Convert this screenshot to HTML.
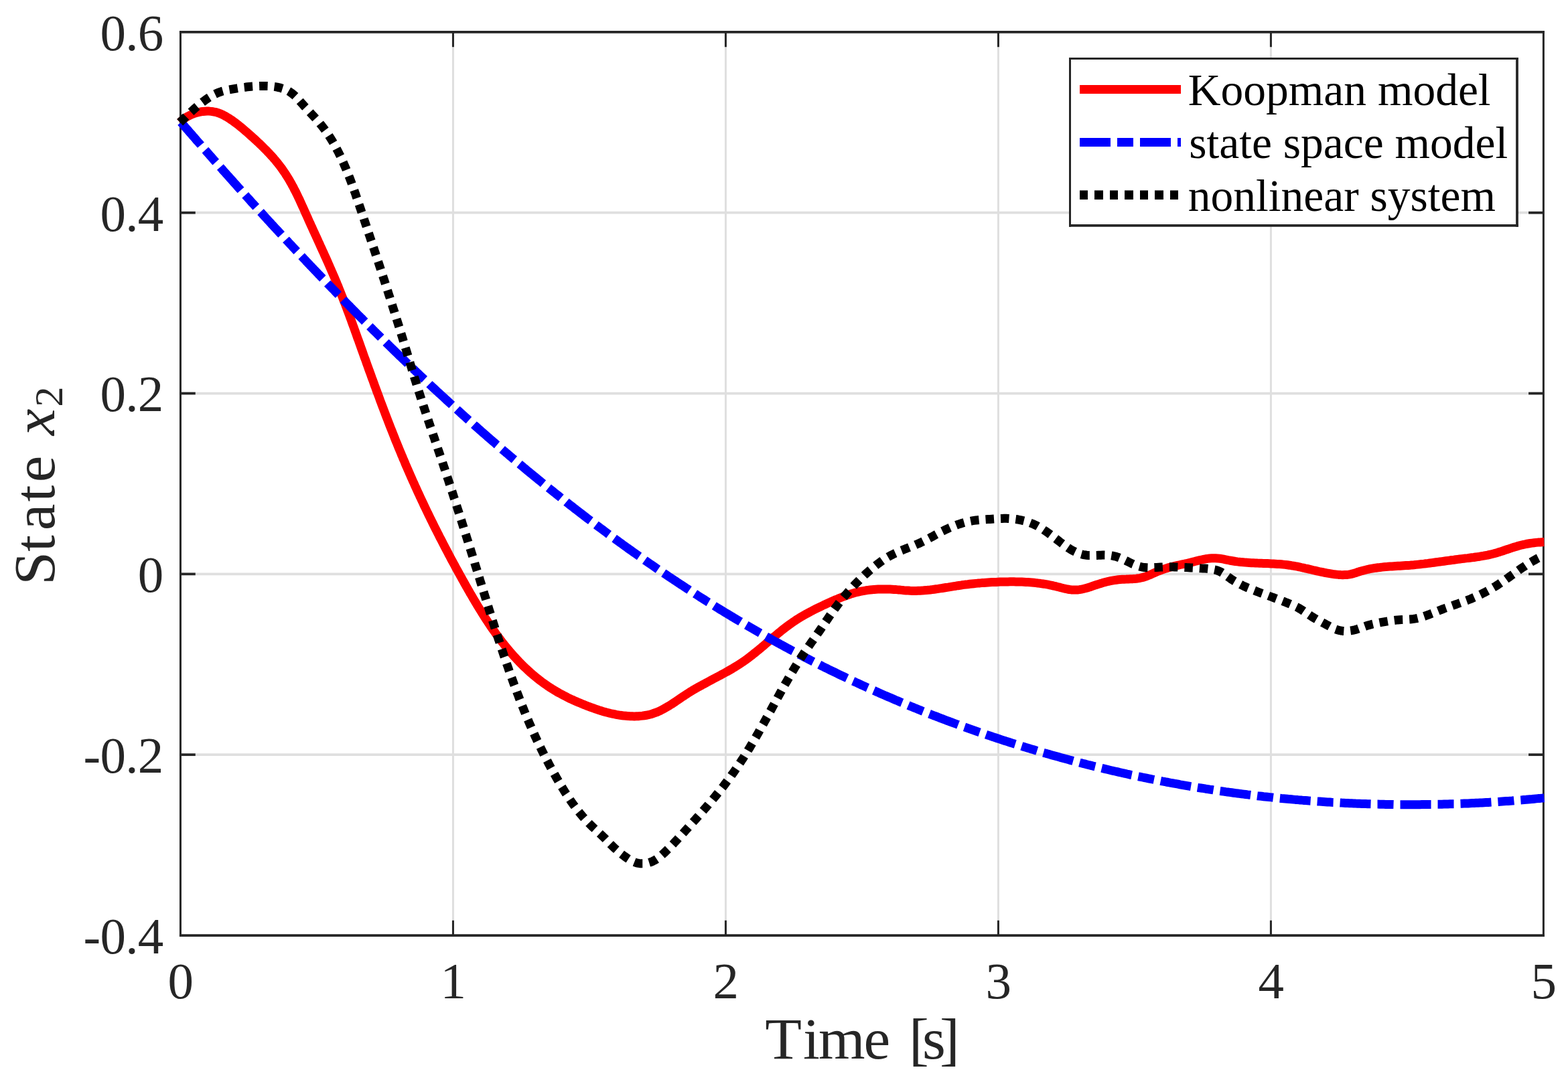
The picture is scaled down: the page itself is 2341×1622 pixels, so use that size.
<!DOCTYPE html>
<html lang="en"><head><meta charset="utf-8"><title>State x2 vs Time [s]</title>
<style>
html,body{margin:0;padding:0;background:#fff;}
body{width:2341px;height:1622px;overflow:hidden;font-family:"Liberation Serif",serif;}
svg{display:block;}
</style></head><body>
<svg width="2341" height="1622" viewBox="0 0 2341 1622">
<rect x="0" y="0" width="2341" height="1622" fill="#fff"/>
<g stroke="#dfdfdf" fill="none">
<line x1="676.44" y1="47.9" x2="676.44" y2="1397.0" stroke-width="3.0"/>
<line x1="1083.43" y1="47.9" x2="1083.43" y2="1397.0" stroke-width="3.0"/>
<line x1="1490.42" y1="47.9" x2="1490.42" y2="1397.0" stroke-width="3.0"/>
<line x1="1897.41" y1="47.9" x2="1897.41" y2="1397.0" stroke-width="3.0"/>
<line x1="269.45" y1="317.72" x2="2304.4" y2="317.72" stroke-width="3.75"/>
<line x1="269.45" y1="587.54" x2="2304.4" y2="587.54" stroke-width="3.75"/>
<line x1="269.45" y1="857.36" x2="2304.4" y2="857.36" stroke-width="3.75"/>
<line x1="269.45" y1="1127.18" x2="2304.4" y2="1127.18" stroke-width="3.75"/>
</g>
<g stroke="#262626" fill="none" stroke-linecap="butt">
<line x1="676.44" y1="1397.0" x2="676.44" y2="1374.70" stroke-width="3.0"/>
<line x1="676.44" y1="47.9" x2="676.44" y2="70.20" stroke-width="3.0"/>
<line x1="1083.43" y1="1397.0" x2="1083.43" y2="1374.70" stroke-width="3.0"/>
<line x1="1083.43" y1="47.9" x2="1083.43" y2="70.20" stroke-width="3.0"/>
<line x1="1490.42" y1="1397.0" x2="1490.42" y2="1374.70" stroke-width="3.0"/>
<line x1="1490.42" y1="47.9" x2="1490.42" y2="70.20" stroke-width="3.0"/>
<line x1="1897.41" y1="1397.0" x2="1897.41" y2="1374.70" stroke-width="3.0"/>
<line x1="1897.41" y1="47.9" x2="1897.41" y2="70.20" stroke-width="3.0"/>
<line x1="269.45" y1="317.72" x2="291.75" y2="317.72" stroke-width="3.75"/>
<line x1="2304.4" y1="317.72" x2="2282.10" y2="317.72" stroke-width="3.75"/>
<line x1="269.45" y1="587.54" x2="291.75" y2="587.54" stroke-width="3.75"/>
<line x1="2304.4" y1="587.54" x2="2282.10" y2="587.54" stroke-width="3.75"/>
<line x1="269.45" y1="857.36" x2="291.75" y2="857.36" stroke-width="3.75"/>
<line x1="2304.4" y1="857.36" x2="2282.10" y2="857.36" stroke-width="3.75"/>
<line x1="269.45" y1="1127.18" x2="291.75" y2="1127.18" stroke-width="3.75"/>
<line x1="2304.4" y1="1127.18" x2="2282.10" y2="1127.18" stroke-width="3.75"/>
<line x1="267.95" y1="47.9" x2="2305.9" y2="47.9" stroke-width="3.75"/>
<line x1="267.95" y1="1397.0" x2="2305.9" y2="1397.0" stroke-width="3.75"/>
<line x1="269.45" y1="46.025" x2="269.45" y2="1398.875" stroke-width="3.0"/>
<line x1="2304.4" y1="46.025" x2="2304.4" y2="1398.875" stroke-width="3.0"/>
</g>
<path d="M268.7 182.7L270.9 180.6L273.2 178.6L275.6 176.8L278.0 175.2L280.6 173.7L283.3 172.3L286.0 171.0L288.8 169.9L291.6 168.9L294.5 168.1L297.4 167.4L300.3 166.8L303.3 166.4L306.3 166.2L309.3 166.1L312.3 166.1L315.3 166.4L318.2 166.8L321.2 167.3L324.1 168.1L326.9 169.0L329.7 170.1L332.5 171.4L335.1 172.7L337.8 174.2L340.3 175.7L342.8 177.3L345.3 179.0L347.8 180.7L350.2 182.5L352.6 184.3L355.0 186.1L357.3 188.0L359.7 189.9L362.0 191.8L364.3 193.7L366.5 195.7L368.8 197.6L371.1 199.6L373.3 201.6L375.5 203.6L377.8 205.6L380.0 207.6L382.2 209.6L384.4 211.7L386.6 213.7L388.7 215.8L390.9 217.9L393.0 220.0L395.1 222.1L397.3 224.2L399.3 226.4L401.4 228.6L403.4 230.7L405.5 233.0L407.5 235.2L409.4 237.5L411.4 239.7L413.3 242.1L415.2 244.4L417.0 246.7L418.8 249.1L420.6 251.5L422.3 254.0L424.0 256.4L425.7 258.9L427.3 261.5L428.9 264.0L430.5 266.5L432.0 269.1L433.5 271.7L435.0 274.3L436.4 277.0L437.9 279.6L439.2 282.3L440.6 284.9L442.0 287.6L443.3 290.3L444.6 293.0L445.9 295.7L447.2 298.4L448.4 301.1L449.7 303.9L450.9 306.6L452.1 309.3L453.4 312.0L454.6 314.8L455.8 317.5L457.0 320.3L458.3 323.0L459.5 325.7L460.7 328.5L461.9 331.2L463.2 333.9L464.4 336.7L465.7 339.4L466.9 342.1L468.1 344.8L469.4 347.6L470.6 350.3L471.9 353.0L473.1 355.7L474.4 358.5L475.6 361.2L476.9 363.9L478.1 366.7L479.3 369.4L480.6 372.1L481.8 374.8L483.1 377.6L484.3 380.3L485.5 383.0L486.8 385.8L488.0 388.5L489.2 391.2L490.4 394.0L491.6 396.7L492.8 399.5L494.0 402.2L495.2 405.0L496.4 407.7L497.6 410.5L498.8 413.2L500.0 416.0L501.1 418.7L502.3 421.5L503.4 424.3L504.6 427.0L505.7 429.8L506.8 432.6L507.9 435.4L509.0 438.2L510.1 440.9L511.2 443.7L512.3 446.5L513.4 449.3L514.5 452.1L515.6 454.9L516.6 457.7L517.7 460.5L518.7 463.3L519.8 466.1L520.8 468.9L521.9 471.8L522.9 474.6L524.0 477.4L525.0 480.2L526.0 483.0L527.0 485.8L528.1 488.6L529.1 491.5L530.1 494.3L531.1 497.1L532.1 499.9L533.1 502.7L534.1 505.6L535.2 508.4L536.2 511.2L537.2 514.0L538.2 516.9L539.2 519.7L540.2 522.5L541.2 525.3L542.2 528.1L543.2 531.0L544.2 533.8L545.3 536.6L546.3 539.4L547.3 542.3L548.3 545.1L549.3 547.9L550.3 550.7L551.3 553.5L552.4 556.3L553.4 559.2L554.4 562.0L555.4 564.8L556.5 567.6L557.5 570.4L558.5 573.2L559.5 576.1L560.6 578.9L561.6 581.7L562.6 584.5L563.7 587.3L564.7 590.1L565.8 592.9L566.8 595.7L567.8 598.6L568.9 601.4L569.9 604.2L571.0 607.0L572.1 609.8L573.1 612.6L574.2 615.4L575.2 618.2L576.3 621.0L577.4 623.8L578.5 626.6L579.5 629.4L580.6 632.2L581.7 635.0L582.8 637.8L583.9 640.6L585.0 643.3L586.1 646.1L587.2 648.9L588.3 651.7L589.4 654.5L590.5 657.3L591.6 660.0L592.8 662.8L593.9 665.6L595.0 668.4L596.2 671.2L597.3 673.9L598.5 676.7L599.6 679.5L600.8 682.2L601.9 685.0L603.1 687.7L604.3 690.5L605.4 693.3L606.6 696.0L607.8 698.8L609.0 701.5L610.2 704.3L611.4 707.0L612.6 709.8L613.8 712.5L615.0 715.2L616.2 718.0L617.5 720.7L618.7 723.4L619.9 726.2L621.2 728.9L622.4 731.6L623.7 734.4L624.9 737.1L626.2 739.8L627.4 742.5L628.7 745.2L630.0 748.0L631.3 750.7L632.5 753.4L633.8 756.1L635.1 758.8L636.4 761.5L637.7 764.2L639.0 766.9L640.3 769.6L641.6 772.3L642.9 775.0L644.3 777.7L645.6 780.4L646.9 783.0L648.2 785.7L649.6 788.4L650.9 791.1L652.3 793.8L653.6 796.4L655.0 799.1L656.3 801.8L657.7 804.4L659.1 807.1L660.5 809.8L661.8 812.4L663.2 815.1L664.6 817.8L666.0 820.4L667.4 823.1L668.8 825.7L670.2 828.4L671.6 831.0L673.0 833.7L674.4 836.3L675.8 838.9L677.3 841.6L678.7 844.2L680.1 846.8L681.5 849.5L683.0 852.1L684.4 854.7L685.9 857.4L687.3 860.0L688.8 862.6L690.2 865.2L691.7 867.8L693.2 870.5L694.6 873.1L696.1 875.7L697.6 878.3L699.1 880.9L700.6 883.5L702.0 886.1L703.6 888.7L705.1 891.3L706.6 893.9L708.1 896.4L709.6 899.0L711.2 901.6L712.7 904.2L714.3 906.7L715.8 909.3L717.4 911.8L719.0 914.4L720.6 916.9L722.2 919.4L723.8 922.0L725.4 924.5L727.1 927.0L728.7 929.5L730.4 932.0L732.0 934.5L733.7 937.0L735.4 939.4L737.2 941.9L738.9 944.3L740.6 946.8L742.4 949.2L744.2 951.6L746.0 954.0L747.8 956.4L749.6 958.8L751.4 961.1L753.3 963.5L755.2 965.8L757.1 968.1L759.0 970.4L760.9 972.7L762.9 975.0L764.9 977.3L766.8 979.5L768.9 981.7L770.9 983.9L772.9 986.1L775.0 988.3L777.1 990.4L779.2 992.6L781.3 994.7L783.5 996.8L785.7 998.8L787.9 1000.9L790.1 1002.9L792.3 1004.9L794.6 1006.8L796.9 1008.8L799.2 1010.7L801.5 1012.6L803.8 1014.4L806.2 1016.3L808.6 1018.1L811.0 1019.9L813.5 1021.6L815.9 1023.3L818.4 1025.0L820.9 1026.7L823.4 1028.3L825.9 1029.9L828.5 1031.4L831.1 1033.0L833.7 1034.5L836.3 1035.9L838.9 1037.3L841.6 1038.7L844.3 1040.1L846.9 1041.5L849.6 1042.8L852.3 1044.1L855.0 1045.3L857.8 1046.6L860.5 1047.8L863.3 1049.0L866.0 1050.1L868.8 1051.3L871.6 1052.4L874.4 1053.5L877.2 1054.6L880.0 1055.6L882.8 1056.7L885.6 1057.7L888.4 1058.7L891.3 1059.6L894.1 1060.6L897.0 1061.5L899.8 1062.4L902.7 1063.2L905.6 1064.0L908.5 1064.7L911.4 1065.5L914.3 1066.1L917.3 1066.7L920.2 1067.3L923.2 1067.8L926.1 1068.3L929.1 1068.7L932.1 1069.1L935.1 1069.3L938.0 1069.6L941.0 1069.7L944.0 1069.8L947.0 1069.9L950.0 1069.8L953.0 1069.7L956.0 1069.4L959.0 1069.1L962.0 1068.7L964.9 1068.3L967.9 1067.7L970.8 1067.0L973.7 1066.2L976.5 1065.2L979.3 1064.2L982.1 1063.1L984.8 1061.9L987.5 1060.5L990.2 1059.2L992.8 1057.7L995.4 1056.2L998.0 1054.7L1000.5 1053.1L1003.1 1051.5L1005.6 1049.8L1008.1 1048.2L1010.5 1046.5L1013.0 1044.8L1015.5 1043.1L1018.0 1041.4L1020.5 1039.8L1023.0 1038.1L1025.5 1036.5L1028.0 1034.9L1030.5 1033.3L1033.1 1031.7L1035.7 1030.2L1038.3 1028.7L1040.9 1027.2L1043.5 1025.7L1046.1 1024.3L1048.7 1022.8L1051.4 1021.4L1054.0 1020.0L1056.6 1018.6L1059.3 1017.1L1061.9 1015.7L1064.6 1014.3L1067.2 1012.9L1069.9 1011.5L1072.5 1010.1L1075.2 1008.7L1077.8 1007.3L1080.4 1005.9L1083.1 1004.4L1085.7 1003.0L1088.3 1001.5L1090.9 1000.0L1093.5 998.5L1096.1 996.9L1098.6 995.4L1101.2 993.8L1103.7 992.2L1106.2 990.5L1108.7 988.9L1111.1 987.2L1113.6 985.4L1116.0 983.7L1118.4 981.9L1120.8 980.0L1123.2 978.2L1125.5 976.3L1127.9 974.5L1130.2 972.6L1132.5 970.7L1134.8 968.8L1137.1 966.8L1139.4 964.9L1141.7 963.0L1143.9 961.0L1146.2 959.1L1148.5 957.1L1150.8 955.2L1153.1 953.2L1155.4 951.3L1157.7 949.4L1160.0 947.5L1162.3 945.6L1164.6 943.7L1166.9 941.8L1169.3 939.9L1171.6 938.1L1174.0 936.3L1176.4 934.5L1178.8 932.7L1181.3 930.9L1183.7 929.2L1186.2 927.6L1188.7 925.9L1191.3 924.3L1193.8 922.7L1196.4 921.2L1199.0 919.7L1201.6 918.2L1204.2 916.7L1206.8 915.3L1209.4 913.8L1212.1 912.5L1214.8 911.1L1217.4 909.7L1220.1 908.4L1222.8 907.1L1225.5 905.8L1228.2 904.5L1230.9 903.2L1233.6 902.0L1236.4 900.7L1239.1 899.5L1241.8 898.2L1244.6 897.0L1247.3 895.8L1250.1 894.7L1252.9 893.5L1255.6 892.4L1258.4 891.3L1261.2 890.3L1264.1 889.2L1266.9 888.3L1269.7 887.3L1272.6 886.4L1275.5 885.6L1278.4 884.8L1281.3 884.1L1284.2 883.4L1287.1 882.8L1290.1 882.3L1293.0 881.8L1296.0 881.4L1299.0 881.0L1302.0 880.7L1304.9 880.4L1307.9 880.2L1310.9 880.1L1313.9 880.0L1316.9 879.9L1319.9 879.9L1322.9 879.9L1325.9 880.0L1328.9 880.1L1331.9 880.2L1334.9 880.4L1337.9 880.6L1340.9 880.9L1343.9 881.1L1346.8 881.4L1349.8 881.7L1352.8 881.9L1355.8 882.1L1358.8 882.3L1361.8 882.4L1364.8 882.4L1367.8 882.4L1370.8 882.3L1373.8 882.2L1376.8 882.1L1379.8 881.8L1382.7 881.6L1385.7 881.3L1388.7 881.0L1391.7 880.6L1394.7 880.2L1397.6 879.8L1400.6 879.4L1403.6 878.9L1406.5 878.5L1409.5 878.0L1412.4 877.5L1415.4 877.1L1418.4 876.6L1421.3 876.1L1424.3 875.6L1427.2 875.2L1430.2 874.7L1433.2 874.3L1436.1 873.8L1439.1 873.4L1442.1 873.0L1445.0 872.7L1448.0 872.3L1451.0 872.0L1454.0 871.7L1457.0 871.4L1459.9 871.1L1462.9 870.9L1465.9 870.6L1468.9 870.4L1471.9 870.2L1474.9 870.0L1477.9 869.8L1480.9 869.6L1483.9 869.5L1486.9 869.4L1489.9 869.2L1492.9 869.1L1495.8 869.1L1498.8 869.0L1501.8 868.9L1504.8 868.9L1507.8 868.8L1510.8 868.8L1513.8 868.8L1516.8 868.9L1519.8 868.9L1522.8 869.0L1525.8 869.1L1528.8 869.2L1531.8 869.4L1534.8 869.6L1537.8 869.8L1540.8 870.0L1543.8 870.3L1546.7 870.6L1549.7 871.0L1552.7 871.3L1555.7 871.8L1558.6 872.2L1561.6 872.7L1564.5 873.2L1567.5 873.8L1570.4 874.4L1573.3 875.1L1576.2 875.7L1579.1 876.5L1582.1 877.2L1585.0 878.0L1587.9 878.7L1590.8 879.4L1593.7 880.0L1596.7 880.5L1599.6 880.9L1602.6 881.1L1605.6 881.1L1608.6 881.0L1611.6 880.6L1614.6 880.1L1617.5 879.5L1620.4 878.8L1623.3 878.0L1626.1 877.1L1629.0 876.2L1631.8 875.2L1634.7 874.2L1637.5 873.3L1640.4 872.4L1643.2 871.5L1646.1 870.6L1649.0 869.8L1651.9 869.0L1654.8 868.3L1657.7 867.7L1660.7 867.1L1663.6 866.6L1666.6 866.2L1669.6 865.8L1672.5 865.5L1675.5 865.3L1678.5 865.2L1681.5 865.1L1684.5 864.9L1687.5 864.8L1690.5 864.7L1693.5 864.4L1696.5 864.2L1699.4 863.8L1702.4 863.3L1705.3 862.6L1708.2 861.9L1711.1 860.9L1713.9 859.8L1716.6 858.7L1719.4 857.5L1722.1 856.2L1724.8 855.0L1727.6 853.8L1730.4 852.7L1733.2 851.6L1736.0 850.6L1738.8 849.6L1741.7 848.7L1744.5 847.8L1747.4 847.0L1750.3 846.2L1753.2 845.5L1756.1 844.8L1759.1 844.2L1762.0 843.5L1764.9 842.9L1767.9 842.3L1770.8 841.7L1773.7 841.0L1776.6 840.3L1779.5 839.6L1782.4 838.9L1785.3 838.1L1788.2 837.4L1791.2 836.7L1794.1 836.0L1797.0 835.4L1800.0 834.8L1802.9 834.4L1805.9 834.0L1808.9 833.8L1811.9 833.7L1814.9 833.7L1817.9 833.9L1820.8 834.2L1823.8 834.7L1826.8 835.2L1829.7 835.8L1832.6 836.4L1835.6 837.0L1838.5 837.5L1841.5 838.0L1844.4 838.5L1847.4 838.9L1850.4 839.2L1853.4 839.6L1856.3 839.8L1859.3 840.1L1862.3 840.3L1865.3 840.5L1868.3 840.7L1871.3 840.8L1874.3 840.9L1877.3 841.1L1880.3 841.2L1883.3 841.3L1886.3 841.4L1889.3 841.5L1892.3 841.6L1895.3 841.7L1898.2 841.9L1901.2 842.0L1904.2 842.2L1907.2 842.4L1910.2 842.6L1913.2 842.8L1916.2 843.1L1919.2 843.4L1922.1 843.8L1925.1 844.2L1928.1 844.7L1931.0 845.1L1934.0 845.7L1936.9 846.2L1939.9 846.8L1942.8 847.5L1945.7 848.1L1948.6 848.8L1951.6 849.4L1954.5 850.1L1957.4 850.8L1960.3 851.5L1963.2 852.1L1966.2 852.8L1969.1 853.5L1972.0 854.1L1974.9 854.7L1977.9 855.3L1980.8 855.9L1983.8 856.4L1986.7 856.9L1989.7 857.4L1992.7 857.8L1995.6 858.1L1998.6 858.4L2001.6 858.6L2004.6 858.7L2007.6 858.6L2010.6 858.5L2013.6 858.1L2016.5 857.6L2019.5 856.9L2022.3 856.1L2025.2 855.2L2028.0 854.2L2030.9 853.3L2033.8 852.5L2036.7 851.7L2039.6 851.0L2042.5 850.3L2045.4 849.7L2048.4 849.2L2051.3 848.7L2054.3 848.2L2057.3 847.8L2060.2 847.5L2063.2 847.1L2066.2 846.8L2069.2 846.6L2072.2 846.3L2075.2 846.1L2078.2 845.9L2081.1 845.7L2084.1 845.5L2087.1 845.3L2090.1 845.2L2093.1 845.0L2096.1 844.8L2099.1 844.6L2102.1 844.4L2105.1 844.2L2108.1 843.9L2111.0 843.7L2114.0 843.4L2117.0 843.1L2120.0 842.8L2123.0 842.4L2125.9 842.1L2128.9 841.7L2131.9 841.4L2134.9 841.0L2137.8 840.6L2140.8 840.2L2143.8 839.8L2146.8 839.4L2149.7 839.0L2152.7 838.6L2155.7 838.2L2158.6 837.8L2161.6 837.4L2164.6 837.0L2167.5 836.5L2170.5 836.2L2173.5 835.8L2176.5 835.4L2179.4 835.0L2182.4 834.6L2185.4 834.3L2188.4 833.9L2191.3 833.6L2194.3 833.2L2197.3 832.8L2200.3 832.5L2203.2 832.0L2206.2 831.6L2209.2 831.2L2212.1 830.7L2215.1 830.2L2218.0 829.6L2221.0 829.1L2223.9 828.4L2226.8 827.7L2229.7 827.0L2232.6 826.2L2235.5 825.4L2238.3 824.5L2241.2 823.6L2244.0 822.7L2246.9 821.7L2249.7 820.8L2252.6 819.8L2255.4 818.9L2258.3 817.9L2261.1 817.0L2264.0 816.2L2266.9 815.3L2269.8 814.5L2272.7 813.8L2275.6 813.2L2278.5 812.5L2281.5 812.0L2284.4 811.5L2287.4 811.1L2290.4 810.7L2293.3 810.4L2296.3 810.1L2299.3 809.9L2302.3 809.7L2305.3 809.6" fill="none" stroke="#ff0000" stroke-width="13.0" stroke-linejoin="round" stroke-linecap="butt"/>
<path d="M270.3 182.6L272.2 184.9L274.2 187.1L276.1 189.4L278.1 191.7L280.1 193.9L282.0 196.2L284.0 198.5L286.0 200.7L287.9 203.0L289.9 205.2L291.9 207.5L293.8 209.8L295.8 212.0L297.8 214.3L299.8 216.5L301.7 218.8L303.7 221.0L305.7 223.3L307.7 225.5L309.6 227.8L311.6 230.1L313.6 232.3L315.6 234.6L317.6 236.8L319.5 239.1L321.5 241.3L323.5 243.5L325.5 245.8L327.5 248.0L329.5 250.3L331.5 252.5L333.4 254.8L335.4 257.0L337.4 259.3L339.4 261.5L341.4 263.7L343.4 266.0L345.4 268.2L347.4 270.4L349.4 272.7L351.4 274.9L353.4 277.1L355.4 279.4L357.4 281.6L359.4 283.8L361.4 286.1L363.4 288.3L365.4 290.5L367.4 292.8L369.4 295.0L371.4 297.2L373.4 299.4L375.4 301.7L377.5 303.9L379.5 306.1L381.5 308.3L383.5 310.5L385.5 312.8L387.5 315.0L389.6 317.2L391.6 319.4L393.6 321.6L395.6 323.8L397.6 326.0L399.7 328.3L401.7 330.5L403.7 332.7L405.7 334.9L407.8 337.1L409.8 339.3L411.8 341.5L413.9 343.7L415.9 345.9L417.9 348.1L420.0 350.3L422.0 352.5L424.0 354.7L426.1 356.9L428.1 359.1L430.2 361.3L432.2 363.5L434.3 365.7L436.3 367.9L438.3 370.1L440.4 372.3L442.4 374.4L444.5 376.6L446.5 378.8L448.6 381.0L450.7 383.2L452.7 385.4L454.8 387.5L456.8 389.7L458.9 391.9L460.9 394.1L463.0 396.3L465.1 398.4L467.1 400.6L469.2 402.8L471.3 404.9L473.3 407.1L475.4 409.3L477.5 411.4L479.5 413.6L481.6 415.8L483.7 417.9L485.8 420.1L487.9 422.3L489.9 424.4L492.0 426.6L494.1 428.7L496.2 430.9L498.3 433.0L500.3 435.2L502.4 437.3L504.5 439.5L506.6 441.6L508.7 443.8L510.8 445.9L512.9 448.1L515.0 450.2L517.1 452.4L519.2 454.5L521.3 456.6L523.4 458.8L525.5 460.9L527.6 463.1L529.7 465.2L531.8 467.3L533.9 469.5L536.0 471.6L538.1 473.7L540.3 475.8L542.4 478.0L544.5 480.1L546.6 482.2L548.7 484.3L550.8 486.4L553.0 488.6L555.1 490.7L557.2 492.8L559.3 494.9L561.5 497.0L563.6 499.1L565.7 501.2L567.9 503.3L570.0 505.4L572.1 507.5L574.3 509.6L576.4 511.7L578.6 513.8L580.7 515.9L582.8 518.0L585.0 520.1L587.1 522.2L589.3 524.3L591.4 526.4L593.6 528.5L595.7 530.6L597.9 532.6L600.1 534.7L602.2 536.8L604.4 538.9L606.5 541.0L608.7 543.0L610.9 545.1L613.0 547.2L615.2 549.3L617.4 551.3L619.5 553.4L621.7 555.5L623.9 557.5L626.1 559.6L628.2 561.6L630.4 563.7L632.6 565.8L634.8 567.8L637.0 569.9L639.2 571.9L641.3 574.0L643.5 576.0L645.7 578.1L647.9 580.1L650.1 582.1L652.3 584.2L654.5 586.2L656.7 588.3L658.9 590.3L661.1 592.3L663.3 594.3L665.5 596.4L667.7 598.4L669.9 600.4L672.2 602.5L674.4 604.5L676.6 606.5L678.8 608.5L681.0 610.5L683.2 612.5L685.5 614.5L687.7 616.6L689.9 618.6L692.1 620.6L694.4 622.6L696.6 624.6L698.8 626.6L701.1 628.6L703.3 630.6L705.6 632.6L707.8 634.6L710.0 636.5L712.3 638.5L714.5 640.5L716.8 642.5L719.0 644.5L721.3 646.5L723.5 648.4L725.8 650.4L728.0 652.4L730.3 654.3L732.6 656.3L734.8 658.3L737.1 660.2L739.4 662.2L741.6 664.2L743.9 666.1L746.2 668.1L748.4 670.0L750.7 672.0L753.0 673.9L755.3 675.9L757.6 677.8L759.8 679.8L762.1 681.7L764.4 683.6L766.7 685.6L769.0 687.5L771.3 689.4L773.6 691.4L775.9 693.3L778.2 695.2L780.5 697.1L782.8 699.1L785.1 701.0L787.4 702.9L789.7 704.8L792.0 706.7L794.3 708.6L796.6 710.5L799.0 712.4L801.3 714.3L803.6 716.2L805.9 718.1L808.3 720.0L810.6 721.9L812.9 723.8L815.2 725.7L817.6 727.6L819.9 729.4L822.2 731.3L824.6 733.2L826.9 735.1L829.3 736.9L831.6 738.8L834.0 740.7L836.3 742.5L838.6 744.4L841.0 746.2L843.4 748.1L845.7 750.0L848.1 751.8L850.4 753.7L852.8 755.5L855.2 757.3L857.5 759.2L859.9 761.0L862.3 762.9L864.6 764.7L867.0 766.5L869.4 768.3L871.8 770.2L874.2 772.0L876.5 773.8L878.9 775.6L881.3 777.4L883.7 779.2L886.1 781.1L888.5 782.9L890.9 784.7L893.3 786.5L895.7 788.3L898.1 790.0L900.5 791.8L902.9 793.6L905.3 795.4L907.7 797.2L910.1 799.0L912.5 800.7L914.9 802.5L917.4 804.3L919.8 806.1L922.2 807.8L924.6 809.6L927.1 811.3L929.5 813.1L931.9 814.9L934.4 816.6L936.8 818.4L939.2 820.1L941.7 821.8L944.1 823.6L946.6 825.3L949.0 827.0L951.5 828.8L953.9 830.5L956.4 832.2L958.8 833.9L961.3 835.7L963.7 837.4L966.2 839.1L968.7 840.8L971.1 842.5L973.6 844.2L976.1 845.9L978.5 847.6L981.0 849.3L983.5 851.0L986.0 852.7L988.4 854.4L990.9 856.0L993.4 857.7L995.9 859.4L998.4 861.1L1000.9 862.7L1003.4 864.4L1005.9 866.0L1008.4 867.7L1010.9 869.4L1013.4 871.0L1015.9 872.7L1018.4 874.3L1020.9 875.9L1023.4 877.6L1025.9 879.2L1028.4 880.8L1030.9 882.5L1033.5 884.1L1036.0 885.7L1038.5 887.3L1041.0 888.9L1043.6 890.6L1046.1 892.2L1048.6 893.8L1051.2 895.4L1053.7 897.0L1056.2 898.6L1058.8 900.1L1061.3 901.7L1063.9 903.3L1066.4 904.9L1069.0 906.5L1071.5 908.0L1074.1 909.6L1076.6 911.2L1079.2 912.7L1081.7 914.3L1084.3 915.8L1086.9 917.4L1089.4 918.9L1092.0 920.5L1094.6 922.0L1097.2 923.6L1099.7 925.1L1102.3 926.6L1104.9 928.1L1107.5 929.7L1110.1 931.2L1112.6 932.7L1115.2 934.2L1117.8 935.7L1120.4 937.2L1123.0 938.7L1125.6 940.2L1128.2 941.7L1130.8 943.2L1133.4 944.7L1136.0 946.2L1138.6 947.6L1141.3 949.1L1143.9 950.6L1146.5 952.0L1149.1 953.5L1151.7 955.0L1154.3 956.4L1157.0 957.9L1159.6 959.3L1162.2 960.7L1164.8 962.2L1167.5 963.6L1170.1 965.0L1172.8 966.5L1175.4 967.9L1178.0 969.3L1180.7 970.7L1183.3 972.1L1186.0 973.5L1188.6 974.9L1191.3 976.3L1193.9 977.7L1196.6 979.1L1199.2 980.5L1201.9 981.9L1204.6 983.3L1207.2 984.6L1209.9 986.0L1212.6 987.4L1215.2 988.7L1217.9 990.1L1220.6 991.4L1223.3 992.8L1225.9 994.1L1228.6 995.5L1231.3 996.8L1234.0 998.1L1236.7 999.5L1239.4 1000.8L1242.1 1002.1L1244.8 1003.4L1247.5 1004.7L1250.1 1006.0L1252.8 1007.3L1255.5 1008.6L1258.3 1009.9L1261.0 1011.2L1263.7 1012.5L1266.4 1013.8L1269.1 1015.1L1271.8 1016.4L1274.5 1017.6L1277.2 1018.9L1280.0 1020.1L1282.7 1021.4L1285.4 1022.7L1288.1 1023.9L1290.9 1025.2L1293.6 1026.4L1296.3 1027.6L1299.0 1028.9L1301.8 1030.1L1304.5 1031.3L1307.3 1032.5L1310.0 1033.7L1312.7 1035.0L1315.5 1036.2L1318.2 1037.4L1321.0 1038.6L1323.7 1039.8L1326.5 1041.0L1329.2 1042.1L1332.0 1043.3L1334.7 1044.5L1337.5 1045.7L1340.3 1046.8L1343.0 1048.0L1345.8 1049.2L1348.5 1050.3L1351.3 1051.5L1354.1 1052.6L1356.9 1053.8L1359.6 1054.9L1362.4 1056.0L1365.2 1057.2L1368.0 1058.3L1370.7 1059.4L1373.5 1060.5L1376.3 1061.7L1379.1 1062.8L1381.9 1063.9L1384.7 1065.0L1387.4 1066.1L1390.2 1067.2L1393.0 1068.3L1395.8 1069.3L1398.6 1070.4L1401.4 1071.5L1404.2 1072.6L1407.0 1073.6L1409.8 1074.7L1412.6 1075.8L1415.4 1076.8L1418.2 1077.9L1421.0 1078.9L1423.9 1080.0L1426.7 1081.0L1429.5 1082.0L1432.3 1083.1L1435.1 1084.1L1437.9 1085.1L1440.8 1086.1L1443.6 1087.1L1446.4 1088.1L1449.2 1089.1L1452.1 1090.1L1454.9 1091.1L1457.7 1092.1L1460.5 1093.1L1463.4 1094.1L1466.2 1095.1L1469.0 1096.1L1471.9 1097.0L1474.7 1098.0L1477.6 1098.9L1480.4 1099.9L1483.2 1100.9L1486.1 1101.8L1488.9 1102.7L1491.8 1103.7L1494.6 1104.6L1497.5 1105.6L1500.3 1106.5L1503.2 1107.4L1506.0 1108.3L1508.9 1109.2L1511.7 1110.1L1514.6 1111.0L1517.5 1111.9L1520.3 1112.8L1523.2 1113.7L1526.0 1114.6L1528.9 1115.5L1531.8 1116.4L1534.6 1117.3L1537.5 1118.1L1540.4 1119.0L1543.3 1119.8L1546.1 1120.7L1549.0 1121.6L1551.9 1122.4L1554.7 1123.2L1557.6 1124.1L1560.5 1124.9L1563.4 1125.8L1566.3 1126.6L1569.2 1127.4L1572.0 1128.2L1574.9 1129.0L1577.8 1129.8L1580.7 1130.6L1583.6 1131.4L1586.5 1132.2L1589.4 1133.0L1592.3 1133.8L1595.2 1134.6L1598.0 1135.4L1600.9 1136.1L1603.8 1136.9L1606.7 1137.7L1609.6 1138.4L1612.5 1139.2L1615.4 1139.9L1618.3 1140.7L1621.3 1141.4L1624.2 1142.2L1627.1 1142.9L1630.0 1143.6L1632.9 1144.4L1635.8 1145.1L1638.7 1145.8L1641.6 1146.5L1644.5 1147.2L1647.4 1147.9L1650.4 1148.6L1653.3 1149.3L1656.2 1150.0L1659.1 1150.7L1662.0 1151.4L1664.9 1152.0L1667.9 1152.7L1670.8 1153.4L1673.7 1154.0L1676.6 1154.7L1679.6 1155.3L1682.5 1156.0L1685.4 1156.6L1688.4 1157.3L1691.3 1157.9L1694.2 1158.5L1697.1 1159.2L1700.1 1159.8L1703.0 1160.4L1705.9 1161.0L1708.9 1161.6L1711.8 1162.2L1714.8 1162.8L1717.7 1163.4L1720.6 1164.0L1723.6 1164.6L1726.5 1165.2L1729.5 1165.7L1732.4 1166.3L1735.3 1166.9L1738.3 1167.4L1741.2 1168.0L1744.2 1168.5L1747.1 1169.1L1750.1 1169.6L1753.0 1170.2L1756.0 1170.7L1758.9 1171.2L1761.9 1171.8L1764.8 1172.3L1767.8 1172.8L1770.7 1173.3L1773.7 1173.8L1776.6 1174.3L1779.6 1174.8L1782.6 1175.3L1785.5 1175.8L1788.5 1176.3L1791.4 1176.8L1794.4 1177.2L1797.4 1177.7L1800.3 1178.2L1803.3 1178.6L1806.2 1179.1L1809.2 1179.5L1812.2 1180.0L1815.1 1180.4L1818.1 1180.9L1821.1 1181.3L1824.0 1181.7L1827.0 1182.1L1830.0 1182.6L1832.9 1183.0L1835.9 1183.4L1838.9 1183.8L1841.8 1184.2L1844.8 1184.6L1847.8 1185.0L1850.8 1185.4L1853.7 1185.8L1856.7 1186.1L1859.7 1186.5L1862.7 1186.9L1865.6 1187.2L1868.6 1187.6L1871.6 1188.0L1874.6 1188.3L1877.5 1188.7L1880.5 1189.0L1883.5 1189.3L1886.5 1189.7L1889.5 1190.0L1892.4 1190.3L1895.4 1190.6L1898.4 1190.9L1901.4 1191.3L1904.4 1191.6L1907.3 1191.9L1910.3 1192.2L1913.3 1192.5L1916.3 1192.7L1919.3 1193.0L1922.3 1193.3L1925.2 1193.6L1928.2 1193.8L1931.2 1194.1L1934.2 1194.4L1937.2 1194.6L1940.2 1194.9L1943.2 1195.1L1946.2 1195.4L1949.1 1195.6L1952.1 1195.8L1955.1 1196.1L1958.1 1196.3L1961.1 1196.5L1964.1 1196.7L1967.1 1196.9L1970.1 1197.1L1973.1 1197.3L1976.1 1197.5L1979.0 1197.7L1982.0 1197.9L1985.0 1198.1L1988.0 1198.3L1991.0 1198.4L1994.0 1198.6L1997.0 1198.8L2000.0 1198.9L2003.0 1199.1L2006.0 1199.2L2009.0 1199.4L2012.0 1199.5L2015.0 1199.7L2018.0 1199.8L2021.0 1199.9L2023.9 1200.1L2026.9 1200.2L2029.9 1200.3L2032.9 1200.4L2035.9 1200.5L2038.9 1200.6L2041.9 1200.7L2044.9 1200.8L2047.9 1200.9L2050.9 1201.0L2053.9 1201.1L2056.9 1201.1L2059.9 1201.2L2062.9 1201.3L2065.9 1201.3L2068.9 1201.4L2071.9 1201.4L2074.9 1201.5L2077.9 1201.5L2080.9 1201.6L2083.9 1201.6L2086.9 1201.6L2089.9 1201.7L2092.9 1201.7L2095.9 1201.7L2098.9 1201.7L2101.9 1201.7L2104.9 1201.7L2107.9 1201.7L2110.9 1201.7L2113.9 1201.7L2116.9 1201.7L2119.8 1201.7L2122.8 1201.6L2125.8 1201.6L2128.8 1201.6L2131.8 1201.5L2134.8 1201.5L2137.8 1201.5L2140.8 1201.4L2143.8 1201.3L2146.8 1201.3L2149.8 1201.2L2152.8 1201.2L2155.8 1201.1L2158.8 1201.0L2161.8 1200.9L2164.8 1200.8L2167.8 1200.7L2170.8 1200.7L2173.8 1200.6L2176.8 1200.4L2179.8 1200.3L2182.8 1200.2L2185.8 1200.1L2188.8 1200.0L2191.8 1199.9L2194.8 1199.7L2197.8 1199.6L2200.8 1199.5L2203.7 1199.3L2206.7 1199.2L2209.7 1199.0L2212.7 1198.9L2215.7 1198.7L2218.7 1198.5L2221.7 1198.4L2224.7 1198.2L2227.7 1198.0L2230.7 1197.8L2233.7 1197.6L2236.7 1197.4L2239.7 1197.2L2242.6 1197.0L2245.6 1196.8L2248.6 1196.6L2251.6 1196.4L2254.6 1196.2L2257.6 1196.0L2260.6 1195.7L2263.6 1195.5L2266.6 1195.3L2269.6 1195.0L2272.5 1194.8L2275.5 1194.5L2278.5 1194.3L2281.5 1194.0L2284.5 1193.7L2287.5 1193.5L2290.5 1193.2L2293.4 1192.9L2296.4 1192.6L2299.4 1192.4L2302.4 1192.1L2305.4 1191.8" fill="none" stroke="#0000ff" stroke-width="13.0" stroke-linejoin="round" stroke-linecap="butt" stroke-dasharray="46 10 24 10" stroke-dashoffset="1.0" pathLength="2374.2"/>
<path d="M268.7 182.7L270.9 180.6L273.0 178.6L275.2 176.5L277.4 174.4L279.5 172.3L281.7 170.3L283.9 168.2L286.1 166.2L288.3 164.2L290.6 162.2L292.8 160.2L295.1 158.3L297.4 156.4L299.8 154.5L302.2 152.7L304.5 150.9L307.0 149.1L309.4 147.4L311.9 145.7L314.5 144.1L317.1 142.6L319.7 141.2L322.4 139.9L325.1 138.6L327.9 137.6L330.8 136.6L333.7 135.8L336.6 135.1L339.5 134.4L342.4 133.8L345.4 133.3L348.3 132.8L351.3 132.3L354.2 131.8L357.2 131.3L360.2 130.9L363.2 130.5L366.1 130.2L369.1 129.8L372.1 129.5L375.1 129.2L378.1 129.0L381.1 128.8L384.1 128.6L387.1 128.5L390.0 128.4L393.0 128.4L396.0 128.4L399.0 128.5L402.0 128.6L405.0 128.9L408.0 129.2L411.0 129.6L413.9 130.1L416.9 130.8L419.7 131.6L422.6 132.5L425.4 133.6L428.1 134.8L430.8 136.2L433.4 137.7L435.8 139.4L438.2 141.3L440.4 143.3L442.6 145.4L444.6 147.5L446.7 149.8L448.6 152.0L450.6 154.3L452.6 156.6L454.5 158.8L456.6 161.0L458.6 163.2L460.6 165.4L462.7 167.6L464.7 169.8L466.7 172.0L468.8 174.2L470.8 176.5L472.8 178.7L474.7 181.0L476.7 183.2L478.6 185.6L480.5 187.9L482.3 190.2L484.1 192.6L485.9 195.1L487.7 197.5L489.3 200.0L491.0 202.5L492.6 205.0L494.2 207.5L495.8 210.1L497.3 212.7L498.8 215.3L500.3 217.9L501.7 220.5L503.1 223.2L504.5 225.8L505.8 228.5L507.2 231.2L508.5 233.9L509.7 236.6L511.0 239.3L512.2 242.1L513.4 244.8L514.6 247.6L515.8 250.3L517.0 253.1L518.1 255.9L519.2 258.7L520.3 261.4L521.4 264.2L522.5 267.0L523.6 269.8L524.6 272.7L525.6 275.5L526.7 278.3L527.7 281.1L528.7 283.9L529.7 286.8L530.7 289.6L531.6 292.4L532.6 295.3L533.6 298.1L534.5 300.9L535.5 303.8L536.5 306.6L537.4 309.5L538.4 312.3L539.3 315.1L540.3 318.0L541.3 320.8L542.2 323.7L543.2 326.5L544.1 329.4L545.1 332.2L546.0 335.0L547.0 337.9L547.9 340.7L548.9 343.6L549.8 346.4L550.8 349.3L551.7 352.1L552.7 355.0L553.6 357.8L554.6 360.6L555.5 363.5L556.5 366.3L557.4 369.2L558.4 372.0L559.3 374.9L560.3 377.7L561.2 380.6L562.1 383.4L563.1 386.3L564.0 389.1L565.0 392.0L565.9 394.8L566.8 397.6L567.8 400.5L568.7 403.3L569.6 406.2L570.6 409.0L571.5 411.9L572.4 414.7L573.4 417.6L574.3 420.5L575.2 423.3L576.1 426.2L577.1 429.0L578.0 431.9L578.9 434.7L579.8 437.6L580.7 440.4L581.7 443.3L582.6 446.1L583.5 449.0L584.4 451.9L585.3 454.7L586.2 457.6L587.1 460.4L588.0 463.3L588.9 466.1L589.8 469.0L590.7 471.9L591.6 474.7L592.5 477.6L593.4 480.5L594.3 483.3L595.2 486.2L596.1 489.0L597.0 491.9L597.9 494.8L598.7 497.6L599.6 500.5L600.5 503.4L601.4 506.2L602.2 509.1L603.1 512.0L604.0 514.9L604.8 517.7L605.7 520.6L606.6 523.5L607.4 526.3L608.3 529.2L609.2 532.1L610.0 534.9L610.9 537.8L611.8 540.7L612.6 543.6L613.5 546.4L614.4 549.3L615.2 552.2L616.1 555.0L617.0 557.9L617.9 560.8L618.7 563.6L619.6 566.5L620.5 569.4L621.4 572.2L622.3 575.1L623.2 578.0L624.1 580.8L625.0 583.7L625.9 586.5L626.8 589.4L627.7 592.3L628.6 595.1L629.5 598.0L630.5 600.8L631.4 603.7L632.3 606.5L633.3 609.4L634.2 612.2L635.2 615.1L636.1 617.9L637.1 620.8L638.0 623.6L639.0 626.4L639.9 629.3L640.9 632.1L641.8 635.0L642.8 637.8L643.8 640.6L644.7 643.5L645.7 646.3L646.6 649.2L647.6 652.0L648.6 654.8L649.5 657.7L650.5 660.5L651.5 663.4L652.4 666.2L653.4 669.0L654.3 671.9L655.3 674.7L656.3 677.6L657.2 680.4L658.2 683.3L659.1 686.1L660.1 688.9L661.0 691.8L662.0 694.6L662.9 697.5L663.9 700.3L664.8 703.2L665.7 706.0L666.7 708.9L667.6 711.7L668.5 714.6L669.5 717.4L670.4 720.3L671.3 723.1L672.3 726.0L673.2 728.8L674.1 731.7L675.1 734.5L676.0 737.4L676.9 740.2L677.8 743.1L678.8 745.9L679.7 748.8L680.6 751.6L681.5 754.5L682.4 757.4L683.3 760.2L684.3 763.1L685.2 765.9L686.1 768.8L687.0 771.6L687.9 774.5L688.8 777.3L689.7 780.2L690.6 783.1L691.5 785.9L692.4 788.8L693.3 791.6L694.2 794.5L695.1 797.4L696.0 800.2L696.9 803.1L697.8 805.9L698.7 808.8L699.6 811.7L700.5 814.5L701.4 817.4L702.3 820.3L703.2 823.1L704.1 826.0L705.0 828.8L705.9 831.7L706.8 834.6L707.7 837.4L708.6 840.3L709.4 843.2L710.3 846.0L711.2 848.9L712.1 851.8L713.0 854.6L713.9 857.5L714.8 860.3L715.7 863.2L716.5 866.1L717.4 868.9L718.3 871.8L719.2 874.7L720.1 877.5L721.0 880.4L721.9 883.3L722.7 886.1L723.6 889.0L724.5 891.9L725.4 894.7L726.3 897.6L727.2 900.5L728.1 903.3L729.0 906.2L729.8 909.0L730.7 911.9L731.6 914.8L732.5 917.6L733.4 920.5L734.3 923.4L735.2 926.2L736.1 929.1L737.0 931.9L737.9 934.8L738.8 937.7L739.7 940.5L740.7 943.4L741.6 946.2L742.5 949.1L743.4 951.9L744.3 954.8L745.3 957.6L746.2 960.5L747.1 963.3L748.1 966.2L749.0 969.0L750.0 971.9L750.9 974.7L751.9 977.6L752.8 980.4L753.8 983.2L754.8 986.1L755.7 988.9L756.7 991.8L757.7 994.6L758.7 997.4L759.6 1000.3L760.6 1003.1L761.6 1005.9L762.6 1008.7L763.7 1011.6L764.7 1014.4L765.7 1017.2L766.7 1020.0L767.7 1022.8L768.8 1025.6L769.8 1028.5L770.9 1031.3L771.9 1034.1L773.0 1036.9L774.1 1039.7L775.1 1042.5L776.2 1045.3L777.3 1048.1L778.4 1050.9L779.5 1053.7L780.6 1056.4L781.7 1059.2L782.8 1062.0L784.0 1064.8L785.1 1067.6L786.3 1070.3L787.4 1073.1L788.6 1075.9L789.7 1078.6L790.9 1081.4L792.1 1084.1L793.3 1086.9L794.5 1089.6L795.7 1092.4L797.0 1095.1L798.2 1097.8L799.4 1100.6L800.7 1103.3L801.9 1106.0L803.2 1108.7L804.5 1111.4L805.8 1114.1L807.1 1116.8L808.4 1119.5L809.8 1122.2L811.1 1124.9L812.4 1127.6L813.8 1130.3L815.2 1132.9L816.6 1135.6L818.0 1138.2L819.4 1140.9L820.8 1143.5L822.2 1146.2L823.6 1148.8L825.1 1151.4L826.5 1154.0L828.0 1156.7L829.5 1159.3L831.0 1161.9L832.5 1164.5L834.0 1167.1L835.5 1169.7L837.0 1172.2L838.5 1174.8L840.1 1177.4L841.7 1179.9L843.2 1182.5L844.8 1185.0L846.5 1187.5L848.1 1190.1L849.8 1192.6L851.4 1195.0L853.1 1197.5L854.9 1200.0L856.6 1202.4L858.4 1204.8L860.2 1207.2L862.0 1209.6L863.8 1212.0L865.7 1214.3L867.6 1216.6L869.5 1218.9L871.5 1221.2L873.5 1223.4L875.5 1225.7L877.6 1227.8L879.7 1230.0L881.8 1232.1L883.9 1234.2L886.1 1236.3L888.3 1238.3L890.5 1240.3L892.7 1242.4L894.9 1244.4L897.1 1246.4L899.3 1248.5L901.5 1250.6L903.6 1252.7L905.7 1254.9L907.8 1257.0L909.8 1259.2L911.9 1261.3L914.1 1263.4L916.2 1265.5L918.4 1267.5L920.7 1269.5L922.9 1271.5L925.2 1273.4L927.6 1275.3L930.0 1277.1L932.4 1278.9L934.8 1280.6L937.3 1282.3L939.8 1283.9L942.4 1285.4L945.1 1286.7L947.9 1287.8L950.8 1288.8L953.7 1289.4L956.7 1289.8L959.7 1289.8L962.7 1289.6L965.6 1289.2L968.5 1288.5L971.4 1287.6L974.2 1286.5L976.9 1285.1L979.5 1283.6L981.9 1282.0L984.3 1280.2L986.7 1278.3L988.9 1276.3L991.1 1274.3L993.3 1272.2L995.4 1270.1L997.6 1268.0L999.7 1265.9L1001.8 1263.7L1003.9 1261.6L1006.0 1259.4L1008.0 1257.2L1010.1 1255.0L1012.1 1252.8L1014.1 1250.6L1016.2 1248.4L1018.2 1246.2L1020.2 1244.0L1022.2 1241.8L1024.2 1239.5L1026.2 1237.3L1028.2 1235.1L1030.2 1232.9L1032.2 1230.6L1034.2 1228.4L1036.2 1226.2L1038.2 1223.9L1040.2 1221.7L1042.2 1219.4L1044.2 1217.2L1046.2 1214.9L1048.1 1212.7L1050.1 1210.4L1052.1 1208.1L1054.0 1205.9L1056.0 1203.6L1057.9 1201.3L1059.9 1199.0L1061.8 1196.7L1063.7 1194.4L1065.6 1192.1L1067.5 1189.8L1069.4 1187.5L1071.3 1185.1L1073.2 1182.8L1075.1 1180.4L1076.9 1178.1L1078.8 1175.7L1080.6 1173.4L1082.4 1171.0L1084.2 1168.6L1086.0 1166.2L1087.8 1163.8L1089.6 1161.4L1091.4 1159.0L1093.1 1156.5L1094.9 1154.1L1096.6 1151.6L1098.3 1149.2L1100.0 1146.7L1101.7 1144.2L1103.3 1141.7L1105.0 1139.2L1106.6 1136.7L1108.3 1134.2L1109.9 1131.7L1111.5 1129.1L1113.1 1126.6L1114.7 1124.0L1116.3 1121.5L1117.8 1118.9L1119.4 1116.4L1120.9 1113.8L1122.5 1111.2L1124.0 1108.6L1125.5 1106.1L1127.0 1103.5L1128.5 1100.9L1130.0 1098.3L1131.5 1095.7L1133.0 1093.1L1134.4 1090.4L1135.9 1087.8L1137.4 1085.2L1138.8 1082.6L1140.3 1080.0L1141.7 1077.3L1143.2 1074.7L1144.6 1072.1L1146.1 1069.5L1147.5 1066.8L1148.9 1064.2L1150.4 1061.6L1151.8 1058.9L1153.2 1056.3L1154.7 1053.6L1156.1 1051.0L1157.5 1048.4L1159.0 1045.7L1160.4 1043.1L1161.8 1040.5L1163.3 1037.8L1164.7 1035.2L1166.2 1032.6L1167.6 1030.0L1169.1 1027.4L1170.5 1024.7L1172.0 1022.1L1173.5 1019.5L1175.0 1016.9L1176.5 1014.3L1178.0 1011.7L1179.5 1009.1L1181.0 1006.5L1182.5 1003.9L1184.0 1001.4L1185.6 998.8L1187.1 996.2L1188.7 993.7L1190.3 991.1L1191.9 988.6L1193.5 986.1L1195.1 983.5L1196.7 981.0L1198.4 978.5L1200.0 976.0L1201.7 973.5L1203.4 971.0L1205.1 968.6L1206.8 966.1L1208.5 963.6L1210.2 961.2L1211.9 958.7L1213.7 956.3L1215.4 953.8L1217.1 951.4L1218.8 948.9L1220.5 946.4L1222.3 944.0L1224.0 941.5L1225.7 939.0L1227.3 936.6L1229.0 934.1L1230.7 931.6L1232.4 929.1L1234.1 926.6L1235.8 924.2L1237.5 921.7L1239.2 919.2L1240.9 916.8L1242.6 914.3L1244.3 911.9L1246.1 909.4L1247.9 907.0L1249.7 904.6L1251.5 902.2L1253.3 899.8L1255.1 897.5L1257.0 895.1L1258.9 892.8L1260.8 890.5L1262.7 888.2L1264.7 885.9L1266.6 883.6L1268.6 881.4L1270.6 879.2L1272.7 877.0L1274.7 874.8L1276.8 872.6L1278.9 870.4L1281.0 868.3L1283.1 866.2L1285.2 864.1L1287.4 862.0L1289.6 860.0L1291.8 857.9L1294.0 855.9L1296.3 853.9L1298.5 851.9L1300.8 850.0L1303.1 848.1L1305.4 846.2L1307.8 844.3L1310.1 842.5L1312.6 840.7L1315.0 838.9L1317.4 837.2L1319.9 835.6L1322.5 834.0L1325.0 832.4L1327.6 830.9L1330.2 829.4L1332.9 828.1L1335.6 826.7L1338.3 825.5L1341.0 824.2L1343.8 823.0L1346.6 821.9L1349.3 820.8L1352.1 819.6L1354.9 818.5L1357.7 817.4L1360.5 816.3L1363.3 815.2L1366.1 814.1L1368.8 812.9L1371.6 811.7L1374.3 810.5L1377.0 809.2L1379.7 807.9L1382.4 806.5L1385.0 805.1L1387.7 803.7L1390.3 802.3L1393.0 800.9L1395.6 799.4L1398.2 798.0L1400.9 796.6L1403.5 795.2L1406.2 793.8L1408.9 792.5L1411.5 791.1L1414.3 789.8L1417.0 788.6L1419.7 787.4L1422.5 786.3L1425.3 785.2L1428.1 784.1L1430.9 783.1L1433.8 782.2L1436.7 781.3L1439.6 780.5L1442.5 779.8L1445.4 779.1L1448.3 778.5L1451.3 777.9L1454.2 777.4L1457.2 777.0L1460.2 776.7L1463.1 776.4L1466.1 776.2L1469.1 776.0L1472.1 775.8L1475.1 775.6L1478.1 775.4L1481.1 775.2L1484.1 775.0L1487.1 774.8L1490.1 774.6L1493.1 774.5L1496.1 774.4L1499.1 774.3L1502.1 774.3L1505.1 774.4L1508.1 774.6L1511.0 774.8L1514.0 775.1L1517.0 775.5L1520.0 776.0L1522.9 776.6L1525.8 777.2L1528.7 777.9L1531.6 778.7L1534.5 779.6L1537.3 780.6L1540.1 781.7L1542.9 782.8L1545.6 784.1L1548.3 785.4L1550.9 786.9L1553.5 788.4L1556.1 789.9L1558.6 791.6L1561.1 793.2L1563.6 795.0L1566.0 796.7L1568.4 798.5L1570.8 800.3L1573.2 802.1L1575.5 804.0L1577.9 805.8L1580.3 807.7L1582.6 809.5L1585.0 811.3L1587.4 813.1L1589.8 814.9L1592.3 816.6L1594.8 818.3L1597.3 819.9L1599.9 821.5L1602.5 822.9L1605.2 824.2L1607.9 825.5L1610.7 826.6L1613.6 827.5L1616.5 828.3L1619.4 828.8L1622.4 829.2L1625.4 829.5L1628.4 829.5L1631.4 829.5L1634.3 829.5L1637.3 829.4L1640.3 829.3L1643.3 829.2L1646.3 829.1L1649.3 829.1L1652.3 829.2L1655.3 829.4L1658.3 829.7L1661.3 830.2L1664.2 830.8L1667.1 831.6L1669.9 832.5L1672.7 833.6L1675.5 834.8L1678.2 836.1L1680.9 837.4L1683.6 838.7L1686.3 840.0L1689.0 841.3L1691.7 842.6L1694.5 843.7L1697.3 844.8L1700.1 845.7L1703.0 846.5L1706.0 847.1L1708.9 847.6L1711.9 847.8L1714.9 847.9L1717.9 847.9L1720.9 847.7L1723.9 847.6L1726.9 847.4L1729.9 847.2L1732.9 847.0L1735.9 846.9L1738.9 846.8L1741.9 846.8L1744.9 846.8L1747.9 846.8L1750.9 846.8L1753.9 846.9L1756.9 846.9L1759.9 847.0L1762.9 847.1L1765.9 847.3L1768.9 847.4L1771.8 847.6L1774.8 847.7L1777.8 847.9L1780.8 848.0L1783.8 848.2L1786.8 848.4L1789.8 848.6L1792.8 848.8L1795.8 848.9L1798.8 849.1L1801.8 849.3L1804.8 849.6L1807.8 849.9L1810.7 850.3L1813.7 850.9L1816.5 851.7L1819.4 852.8L1822.1 854.0L1824.7 855.5L1827.2 857.1L1829.7 858.8L1832.1 860.6L1834.5 862.3L1837.0 864.1L1839.5 865.8L1842.0 867.4L1844.6 868.9L1847.2 870.4L1849.8 871.8L1852.5 873.2L1855.2 874.5L1857.9 875.8L1860.6 877.0L1863.4 878.2L1866.1 879.3L1868.9 880.5L1871.7 881.5L1874.5 882.6L1877.3 883.7L1880.1 884.8L1882.9 885.8L1885.7 886.8L1888.6 887.9L1891.4 888.9L1894.2 890.0L1897.0 891.0L1899.8 892.0L1902.6 893.1L1905.4 894.1L1908.2 895.2L1911.0 896.3L1913.8 897.3L1916.6 898.4L1919.4 899.5L1922.2 900.6L1925.0 901.7L1927.8 902.9L1930.5 904.1L1933.2 905.3L1935.9 906.6L1938.6 908.0L1941.2 909.5L1943.8 911.1L1946.3 912.7L1948.8 914.4L1951.3 916.1L1953.7 917.7L1956.2 919.4L1958.7 921.0L1961.3 922.6L1963.9 924.1L1966.5 925.6L1969.1 927.0L1971.8 928.4L1974.4 929.8L1977.1 931.2L1979.7 932.7L1982.4 934.1L1985.0 935.5L1987.6 936.9L1990.3 938.3L1993.1 939.5L1995.9 940.5L1998.8 941.4L2001.7 942.0L2004.7 942.4L2007.6 942.6L2010.6 942.6L2013.6 942.3L2016.6 941.9L2019.6 941.4L2022.5 940.7L2025.4 939.9L2028.2 939.0L2031.0 938.0L2033.9 937.0L2036.7 935.9L2039.5 934.9L2042.4 934.0L2045.2 933.2L2048.1 932.4L2051.1 931.7L2054.0 931.1L2056.9 930.5L2059.9 929.9L2062.8 929.4L2065.8 928.9L2068.7 928.4L2071.7 927.9L2074.6 927.4L2077.6 927.0L2080.6 926.6L2083.6 926.2L2086.6 925.9L2089.5 925.7L2092.5 925.6L2095.5 925.5L2098.5 925.4L2101.5 925.2L2104.5 925.0L2107.5 924.7L2110.5 924.4L2113.4 923.9L2116.4 923.3L2119.3 922.6L2122.2 921.8L2125.0 920.9L2127.9 919.9L2130.7 918.9L2133.5 917.9L2136.3 916.8L2139.1 915.7L2141.9 914.6L2144.7 913.4L2147.4 912.3L2150.2 911.2L2153.0 910.1L2155.8 909.0L2158.6 908.0L2161.5 907.0L2164.3 906.0L2167.1 905.0L2169.9 904.0L2172.8 903.0L2175.6 902.0L2178.4 901.0L2181.2 900.0L2184.1 899.0L2186.9 897.9L2189.7 896.9L2192.5 895.8L2195.3 894.7L2198.0 893.5L2200.8 892.3L2203.5 891.1L2206.3 889.9L2209.0 888.6L2211.7 887.3L2214.3 885.9L2217.0 884.6L2219.7 883.1L2222.3 881.7L2224.9 880.2L2227.5 878.7L2230.1 877.2L2232.6 875.7L2235.2 874.1L2237.7 872.4L2240.2 870.8L2242.7 869.1L2245.2 867.4L2247.7 865.7L2250.1 864.0L2252.6 862.3L2255.0 860.5L2257.4 858.8L2259.9 857.1L2262.3 855.3L2264.8 853.6L2267.2 851.9L2269.7 850.1L2272.1 848.4L2274.6 846.8L2277.1 845.1L2279.6 843.4L2282.2 841.8L2284.7 840.2L2287.3 838.7L2289.8 837.2L2292.5 835.7L2295.1 834.2L2297.7 832.9L2300.4 831.5L2303.1 830.2" fill="none" stroke="#000000" stroke-width="13.0" stroke-linejoin="round" stroke-linecap="butt" stroke-dasharray="12.5 10" stroke-dashoffset="0.0" pathLength="3124.7"/>
<g font-family="'Liberation Serif', serif" font-size="77" fill="#262626">
<text x="269.75" y="1490.6" text-anchor="middle">0</text>
<text x="676.74" y="1490.6" text-anchor="middle">1</text>
<text x="1083.73" y="1490.6" text-anchor="middle">2</text>
<text x="1490.72" y="1490.6" text-anchor="middle">3</text>
<text x="1897.71" y="1490.6" text-anchor="middle">4</text>
<text x="2304.70" y="1490.6" text-anchor="middle">5</text>
<text x="243.6" y="74.80" text-anchor="end" letter-spacing="-0.7">0.6</text>
<text x="243.6" y="344.62" text-anchor="end" letter-spacing="-0.7">0.4</text>
<text x="243.6" y="614.44" text-anchor="end" letter-spacing="-0.7">0.2</text>
<text x="243.6" y="884.26" text-anchor="end" letter-spacing="-0.7">0</text>
<text x="243.6" y="1154.08" text-anchor="end" letter-spacing="-0.7">-0.2</text>
<text x="243.6" y="1423.90" text-anchor="end" letter-spacing="-0.7">-0.4</text>
</g>
<text transform="translate(0,1580.8) scale(1.04,1)" font-family="'Liberation Serif', serif" font-size="86.0" fill="#262626" x="1098.3 1152.8 1175.0 1240.0 1265.8 1304.7 1324.1 1349.1" y="0">Time [s]</text>
<text transform="translate(80.8,866.2) rotate(-90) scale(1.04,1)" font-family="'Liberation Serif', serif" font-size="86.0" fill="#262626" y="0"><tspan x="-7.3 40.6 71.0 112.1 140.4 166.2">State </tspan><tspan font-style="italic" x="207.7">x</tspan><tspan font-size="58.5" x="248.5" dy="12.5">2</tspan></text>
<rect x="1597.5" y="87.0" width="667.5" height="249.89999999999998" fill="#fff" stroke="none"/>
<g stroke="#262626" fill="none">
<line x1="1596.0" y1="87.5" x2="2266.9" y2="87.5" stroke-width="3"/>
<line x1="1596.0" y1="336.9" x2="2266.9" y2="336.9" stroke-width="3.75"/>
<line x1="1597.5" y1="86" x2="1597.5" y2="338.79999999999995" stroke-width="3"/>
<line x1="2265.0" y1="86" x2="2265.0" y2="338.79999999999995" stroke-width="3.8"/>
</g>
<g stroke="none">
<rect x="1612" y="127" width="151" height="13" fill="#ff0000"/>
<rect x="1612" y="206" width="46" height="13" fill="#0000ff"/>
<rect x="1668" y="206" width="24" height="13" fill="#0000ff"/>
<rect x="1702" y="206" width="46" height="13" fill="#0000ff"/>
<rect x="1758" y="206" width="5" height="13" fill="#0000ff"/>
<rect x="1612" y="284.4" width="12" height="13.6" fill="#000"/>
<rect x="1634" y="284.4" width="13" height="13.6" fill="#000"/>
<rect x="1657" y="284.4" width="12" height="13.6" fill="#000"/>
<rect x="1679" y="284.4" width="13" height="13.6" fill="#000"/>
<rect x="1702" y="284.4" width="12" height="13.6" fill="#000"/>
<rect x="1724" y="284.4" width="13" height="13.6" fill="#000"/>
<rect x="1747" y="284.4" width="12" height="13.6" fill="#000"/>
</g>
<g font-family="'Liberation Serif', serif" font-size="67.5" fill="#000">
<text x="1773.8" y="157.2">Koopman model</text>
<text x="1775.2" y="236.3">state space model</text>
<text x="1773.8" y="315.1">nonlinear system</text>
</g>
</svg>
</body></html>
